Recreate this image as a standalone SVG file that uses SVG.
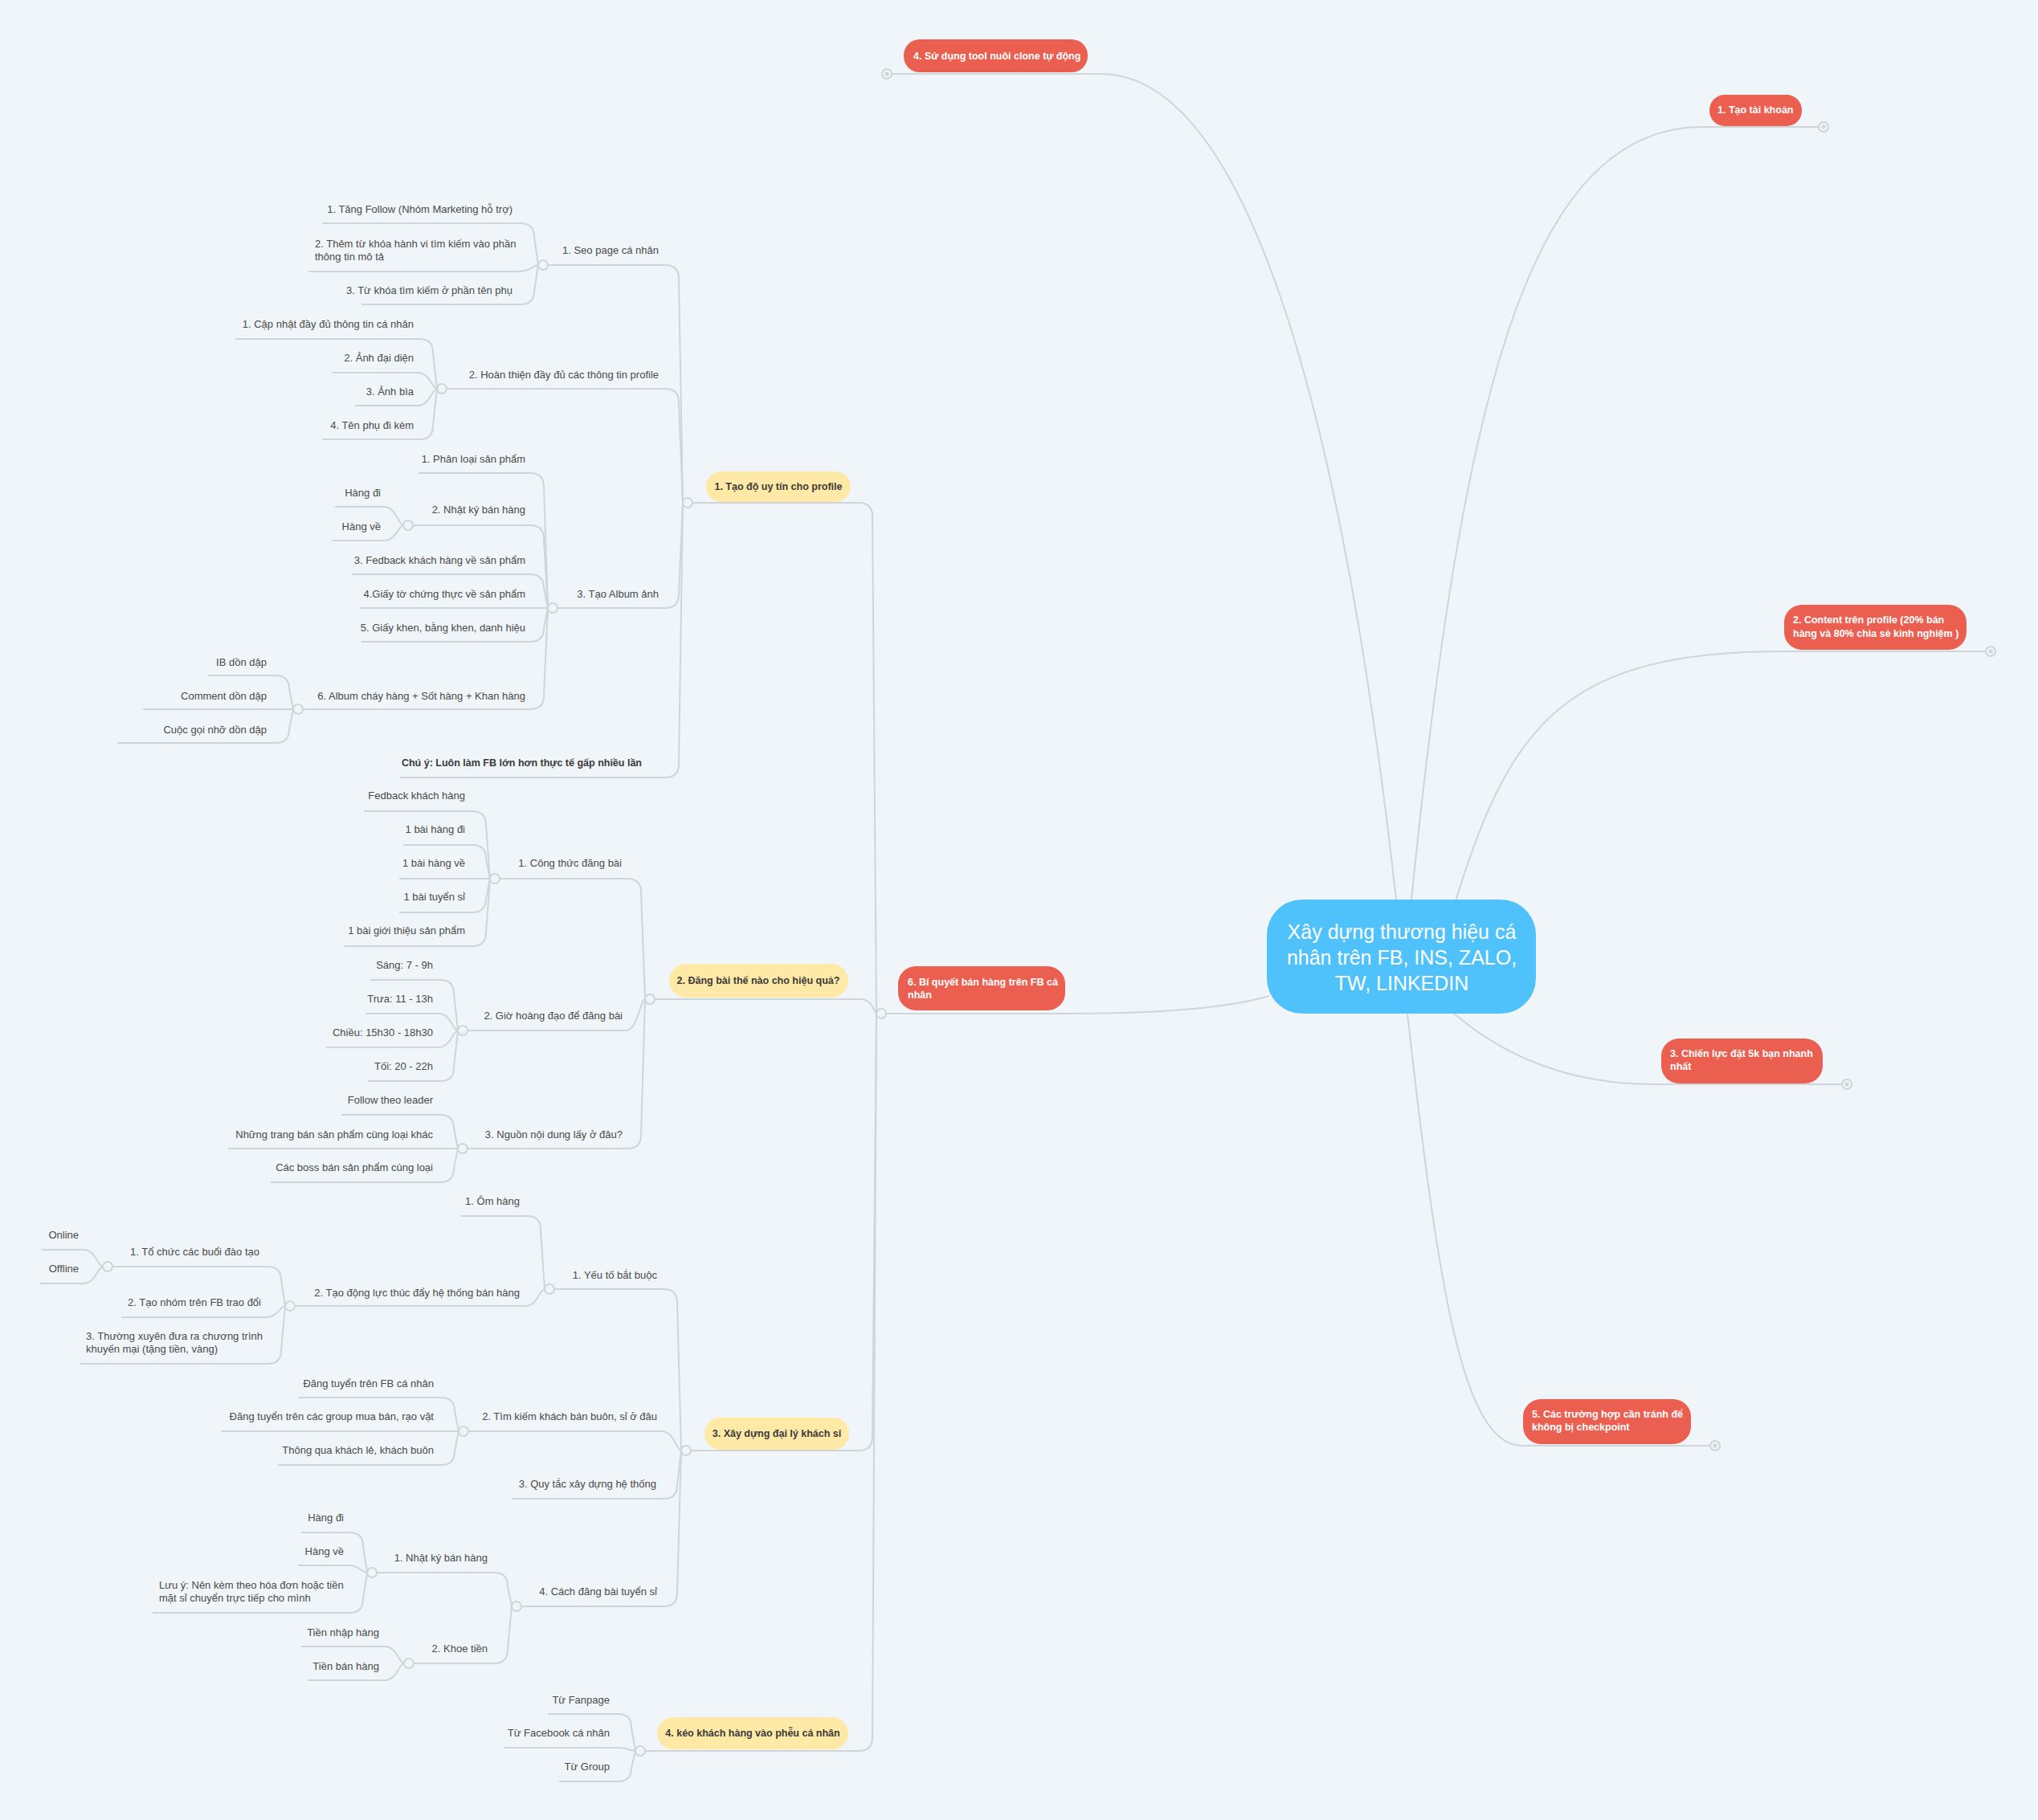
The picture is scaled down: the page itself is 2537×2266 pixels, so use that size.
<svg xmlns="http://www.w3.org/2000/svg" width="2537" height="2266" viewBox="0 0 2537 2266">
<style>
.bg{fill:#eff5f8}
.ln{fill:none;stroke:#d0d5d9;stroke-width:2}
.hub{fill:#eff5f8;stroke:#d0d5d9;stroke-width:2}
.dot{fill:#d0d5d9}
text{font-family:"Liberation Sans",Arial,sans-serif}
.t{font-size:13px;fill:#4a4a4a;dominant-baseline:central}
.e{text-anchor:end}
.b{font-weight:bold;font-size:12.5px;fill:#3a3a3a}
.y{fill:#ffe9a6}
.r{fill:#eb5f51}
.w{font-size:12.5px;font-weight:bold;fill:#fff;dominant-baseline:central}
.c{font-size:25px;fill:#fff;text-anchor:middle;dominant-baseline:central}
</style>
<rect class="bg" x="0" y="0" width="2537" height="2266"/>
<g id="connectors">
<path class="ln" d="M1103,1262 H1330 C1450,1262 1530,1255 1580,1240"/>
<path class="ln" d="M1738,1120 C1660,420 1530,92 1370,92 H1111"/>
<path class="ln" d="M1757,1120 C1820,500 1900,158 2120,158 H2264"/>
<path class="ln" d="M1812,1122 C1880,900 1950,811 2220,811 H2472"/>
<path class="ln" d="M1808,1260 C1900,1340 2000,1350 2060,1350 H2293"/>
<path class="ln" d="M1752,1262 C1790,1600 1820,1800 1895,1800 H2129"/>
<path class="ln" d="M862,626 H1069 Q1086,626 1086,643 L1091,1262"/>
<path class="ln" d="M815,1244 H1071 C1086,1244 1089,1262 1091,1262"/>
<path class="ln" d="M860,1806 H1069 Q1086,1806 1086,1789 L1091,1262"/>
<path class="ln" d="M803,2180 H1069 Q1086,2180 1086,2163 L1091,1262"/>
<path class="ln" d="M682,330 H828 Q845,330 845,347 L850,626"/>
<path class="ln" d="M556,484 H828 Q845,484 845,501 L850,626"/>
<path class="ln" d="M694,757 H828 Q845,757 845,740 L850,626"/>
<path class="ln" d="M498,968 H828 Q845,968 845,951 L850,626"/>
<path class="ln" d="M401,278 H648 Q665,278 665,295 L670,330"/>
<path class="ln" d="M384,338 H646 C661,338 664,330 670,330"/>
<path class="ln" d="M450,379 H648 Q665,379 665,362 L670,330"/>
<path class="ln" d="M293,422 H522 Q539,422 539,439 L544,484"/>
<path class="ln" d="M414,464 H520 C535,464 538,484 544,484"/>
<path class="ln" d="M442,505 H520 C535,505 538,484 544,484"/>
<path class="ln" d="M401,547 H522 Q539,547 539,530 L544,484"/>
<path class="ln" d="M521,589 H660 Q677,589 677,606 L682,757"/>
<path class="ln" d="M514,654 H660 Q677,654 677,671 L682,757"/>
<path class="ln" d="M438,715 H660 Q677,715 677,732 L682,757"/>
<path class="ln" d="M448,757 H682"/>
<path class="ln" d="M450,799 H660 Q677,799 677,782 L682,757"/>
<path class="ln" d="M377,883 H660 Q677,883 677,866 L682,757"/>
<path class="ln" d="M417,631 H478 C493,631 496,654 502,654"/>
<path class="ln" d="M414,673 H478 C493,673 496,654 502,654"/>
<path class="ln" d="M259,841 H343 Q360,841 360,858 L365,883"/>
<path class="ln" d="M178,883 H365"/>
<path class="ln" d="M146,925 H343 Q360,925 360,908 L365,883"/>
<path class="ln" d="M622,1094 H781 Q798,1094 798,1111 L803,1244"/>
<path class="ln" d="M582,1283 H779 C794,1283 797,1244 803,1244"/>
<path class="ln" d="M582,1430 H781 Q798,1430 798,1413 L803,1244"/>
<path class="ln" d="M453,1010 H588 Q605,1010 605,1027 L610,1094"/>
<path class="ln" d="M502,1052 H588 Q605,1052 605,1069 L610,1094"/>
<path class="ln" d="M497,1094 H610"/>
<path class="ln" d="M497,1136 H588 Q605,1136 605,1119 L610,1094"/>
<path class="ln" d="M429,1178 H588 Q605,1178 605,1161 L610,1094"/>
<path class="ln" d="M461,1220 H548 Q565,1220 565,1237 L570,1283"/>
<path class="ln" d="M455,1262 H546 C561,1262 564,1283 570,1283"/>
<path class="ln" d="M406,1304 H546 C561,1304 564,1283 570,1283"/>
<path class="ln" d="M458,1346 H548 Q565,1346 565,1329 L570,1283"/>
<path class="ln" d="M425,1388 H548 Q565,1388 565,1405 L570,1430"/>
<path class="ln" d="M284,1430 H570"/>
<path class="ln" d="M337,1472 H548 Q565,1472 565,1455 L570,1430"/>
<path class="ln" d="M690,1605 H826 Q843,1605 843,1622 L848,1806"/>
<path class="ln" d="M583,1782 H824 C839,1782 842,1806 848,1806"/>
<path class="ln" d="M637,1866 H826 Q843,1866 843,1849 L848,1806"/>
<path class="ln" d="M649,2000 H826 Q843,2000 843,1983 L848,1806"/>
<path class="ln" d="M574,1514 H656 Q673,1514 673,1531 L678,1605"/>
<path class="ln" d="M367,1626 H654 C669,1626 672,1605 678,1605"/>
<path class="ln" d="M140,1577 H333 Q350,1577 350,1594 L355,1626"/>
<path class="ln" d="M151,1640 H331 C346,1640 349,1626 355,1626"/>
<path class="ln" d="M99,1698 H333 Q350,1698 350,1681 L355,1626"/>
<path class="ln" d="M52,1556 H104 C119,1556 122,1577 128,1577"/>
<path class="ln" d="M49,1598 H104 C119,1598 122,1577 128,1577"/>
<path class="ln" d="M371,1740 H549 Q566,1740 566,1757 L571,1782"/>
<path class="ln" d="M275,1782 H571"/>
<path class="ln" d="M346,1824 H549 Q566,1824 566,1807 L571,1782"/>
<path class="ln" d="M469,1958 H615 Q632,1958 632,1975 L637,2000"/>
<path class="ln" d="M515,2071 H615 Q632,2071 632,2054 L637,2000"/>
<path class="ln" d="M375,1908 H435 Q452,1908 452,1925 L457,1958"/>
<path class="ln" d="M371,1949 H433 C448,1949 451,1958 457,1958"/>
<path class="ln" d="M190,2008 H435 Q452,2008 452,1991 L457,1958"/>
<path class="ln" d="M375,2050 H479 C494,2050 497,2071 503,2071"/>
<path class="ln" d="M383,2092 H479 C494,2092 497,2071 503,2071"/>
<path class="ln" d="M682,2134 H769 Q786,2134 786,2151 L791,2180"/>
<path class="ln" d="M627,2176 H770 C782,2176 785,2180 791,2180"/>
<path class="ln" d="M696,2218 H769 Q786,2218 786,2201 L791,2180"/>
</g>
<g id="hubs">
<circle class="hub" cx="1097" cy="1262" r="6"/>
<circle class="hub" cx="856" cy="626" r="6"/>
<circle class="hub" cx="809" cy="1244" r="6"/>
<circle class="hub" cx="854" cy="1806" r="6"/>
<circle class="hub" cx="797" cy="2180" r="6"/>
<circle class="hub" cx="676" cy="330" r="6"/>
<circle class="hub" cx="550" cy="484" r="6"/>
<circle class="hub" cx="688" cy="757" r="6"/>
<circle class="hub" cx="508" cy="654" r="6"/>
<circle class="hub" cx="371" cy="883" r="6"/>
<circle class="hub" cx="616" cy="1094" r="6"/>
<circle class="hub" cx="576" cy="1283" r="6"/>
<circle class="hub" cx="576" cy="1430" r="6"/>
<circle class="hub" cx="684" cy="1605" r="6"/>
<circle class="hub" cx="361" cy="1626" r="6"/>
<circle class="hub" cx="134" cy="1577" r="6"/>
<circle class="hub" cx="577" cy="1782" r="6"/>
<circle class="hub" cx="643" cy="2000" r="6"/>
<circle class="hub" cx="463" cy="1958" r="6"/>
<circle class="hub" cx="509" cy="2071" r="6"/>
<circle class="hub" cx="1104" cy="92" r="6"/><circle class="dot" cx="1104" cy="92" r="2.5"/>
<circle class="hub" cx="2270" cy="158" r="6"/><circle class="dot" cx="2270" cy="158" r="2.5"/>
<circle class="hub" cx="2478" cy="811" r="6"/><circle class="dot" cx="2478" cy="811" r="2.5"/>
<circle class="hub" cx="2299" cy="1350" r="6"/><circle class="dot" cx="2299" cy="1350" r="2.5"/>
<circle class="hub" cx="2135" cy="1800" r="6"/><circle class="dot" cx="2135" cy="1800" r="2.5"/>
</g>
<g id="center"><rect x="1577" y="1120" width="335" height="142" rx="44" fill="#50c2fb"/>
<text class="c" x="1745" y="1160">Xây dựng thương hiệu cá</text><text class="c" x="1745" y="1192">nhân trên FB, INS, ZALO,</text><text class="c" x="1745" y="1224">TW, LINKEDIN</text></g>
<g id="n-r4"><rect class="r" x="1125" y="49" width="229" height="41" rx="20"/><text class="w" x="1137" y="70">4. Sử dụng tool nuôi clone tự động</text></g>
<g id="n-r1"><rect class="r" x="2128" y="118" width="115" height="39" rx="19"/><text class="w" x="2138" y="137">1. Tạo tài khoản</text></g>
<g id="n-r2"><rect class="r" x="2221" y="753" width="227" height="56" rx="22"/><text class="w" x="2232" y="772">2. Content trên profile (20% bán</text><text class="w" x="2232" y="789">hàng và 80% chia sẻ kinh nghiệm )</text></g>
<g id="n-r3"><rect class="r" x="2068" y="1293" width="201" height="56" rx="22"/><text class="w" x="2079" y="1312">3. Chiến lực đặt 5k bạn nhanh</text><text class="w" x="2079" y="1328">nhất</text></g>
<g id="n-r5"><rect class="r" x="1896" y="1742" width="209" height="56" rx="22"/><text class="w" x="1907" y="1761">5. Các trường hợp cần tránh để</text><text class="w" x="1907" y="1777">không bị checkpoint</text></g>
<g id="n-r6"><rect class="r" x="1118" y="1203" width="208" height="55" rx="22"/><text class="w" x="1130" y="1223">6. Bí quyết bán hàng trên FB cá</text><text class="w" x="1130" y="1239">nhân</text></g>
<g id="n-y1"><rect class="y" x="879" y="587" width="180" height="38" rx="19"/><text class="t b" x="969" y="606" text-anchor="middle">1. Tạo độ uy tín cho profile</text></g>
<g id="n-y2"><rect class="y" x="833" y="1200" width="223" height="42" rx="21"/><text class="t b" x="944" y="1221" text-anchor="middle">2. Đăng bài thế nào cho hiệu quả?</text></g>
<g id="n-y3"><rect class="y" x="877" y="1765" width="180" height="40" rx="20"/><text class="t b" x="967" y="1785" text-anchor="middle">3. Xây dựng đại lý khách sỉ</text></g>
<g id="n-y4"><rect class="y" x="818" y="2138" width="238" height="40" rx="20"/><text class="t b" x="937" y="2158" text-anchor="middle">4. kéo khách hàng vào phễu cá nhân</text></g>
<g id="leaves1">
<text class="t e" x="820" y="311">1. Seo page cá nhân</text>
<text class="t e" x="638" y="260">1. Tăng Follow (Nhóm Marketing hỗ trợ)</text>
<text class="t" x="392" y="303">2. Thêm từ khóa hành vi tìm kiếm vào phần</text>
<text class="t" x="392" y="319">thông tin mô tả</text>
<text class="t e" x="638" y="361">3. Từ khóa tìm kiếm ở phần tên phụ</text>
<text class="t e" x="820" y="466">2. Hoàn thiện đầy đủ các thông tin profile</text>
<text class="t e" x="515" y="403">1. Cập nhật đầy đủ thông tin cá nhân</text>
<text class="t e" x="515" y="445">2. Ảnh đại diện</text>
<text class="t e" x="515" y="487">3. Ảnh bìa</text>
<text class="t e" x="515" y="529">4. Tên phụ đi kèm</text>
<text class="t e" x="820" y="739">3. Tạo Album ảnh</text>
<text class="t e" x="654" y="571">1. Phân loại sản phẩm</text>
<text class="t e" x="654" y="634">2. Nhật ký bán hàng</text>
<text class="t e" x="474" y="613">Hàng đi</text>
<text class="t e" x="474" y="655">Hàng về</text>
<text class="t e" x="654" y="697">3. Fedback khách hàng về sản phẩm</text>
<text class="t e" x="654" y="739">4.Giấy tờ chứng thực về sản phẩm</text>
<text class="t e" x="654" y="781">5. Giấy khen, bằng khen, danh hiệu</text>
<text class="t e" x="654" y="866">6. Album cháy hàng + Sốt hàng + Khan hàng</text>
<text class="t e" x="332" y="824">IB dồn dập</text>
<text class="t e" x="332" y="866">Comment dồn dập</text>
<text class="t e" x="332" y="908">Cuộc gọi nhỡ dồn dập</text>
<text class="t e b" x="799" y="950">Chú ý: Luôn làm FB lớn hơn thực tế gấp nhiều lần</text>
</g>
<g id="leaves2">
<text class="t e" x="774" y="1074">1. Công thức đăng bài</text>
<text class="t e" x="579" y="990">Fedback khách hàng</text>
<text class="t e" x="579" y="1032">1 bài hàng đi</text>
<text class="t e" x="579" y="1074">1 bài hàng về</text>
<text class="t e" x="579" y="1116">1 bài tuyển sỉ</text>
<text class="t e" x="579" y="1158">1 bài giới thiệu sản phẩm</text>
<text class="t e" x="775" y="1264">2. Giờ hoàng đạo để đăng bài</text>
<text class="t e" x="539" y="1201">Sáng: 7 - 9h</text>
<text class="t e" x="539" y="1243">Trưa: 11 - 13h</text>
<text class="t e" x="539" y="1285">Chiều: 15h30 - 18h30</text>
<text class="t e" x="539" y="1327">Tối: 20 - 22h</text>
<text class="t e" x="775" y="1412">3. Nguồn nội dung lấy ở đâu?</text>
<text class="t e" x="539" y="1369">Follow theo leader</text>
<text class="t e" x="539" y="1412">Những trang bán sản phẩm cùng loại khác</text>
<text class="t e" x="539" y="1453">Các boss bán sản phẩm cùng loại</text>
</g>
<g id="leaves3">
<text class="t e" x="818" y="1587">1. Yếu tố bắt buộc</text>
<text class="t e" x="647" y="1495">1. Ôm hàng</text>
<text class="t e" x="647" y="1609">2. Tạo động lực thúc đẩy hệ thống bán hàng</text>
<text class="t e" x="323" y="1558">1. Tổ chức các buổi đào tạo</text>
<text class="t e" x="98" y="1537">Online</text>
<text class="t e" x="98" y="1579">Offline</text>
<text class="t e" x="325" y="1621">2. Tạo nhóm trên FB trao đổi</text>
<text class="t" x="107" y="1663">3. Thường xuyên đưa ra chương trình</text>
<text class="t" x="107" y="1679">khuyến mại (tặng tiền, vàng)</text>
<text class="t e" x="818" y="1763">2. Tìm kiếm khách bán buôn, sỉ ở đâu</text>
<text class="t e" x="540" y="1722">Đăng tuyển trên FB cá nhân</text>
<text class="t e" x="540" y="1763">Đăng tuyển trên các group mua bán, rạo vặt</text>
<text class="t e" x="540" y="1805">Thông qua khách lẻ, khách buôn</text>
<text class="t e" x="817" y="1847">3. Quy tắc xây dựng hệ thống</text>
<text class="t e" x="818" y="1981">4. Cách đăng bài tuyển sỉ</text>
<text class="t e" x="607" y="1939">1. Nhật ký bán hàng</text>
<text class="t e" x="428" y="1889">Hàng đi</text>
<text class="t e" x="428" y="1931">Hàng về</text>
<text class="t" x="198" y="1973">Lưu ý: Nên kèm theo hóa đơn hoặc tiền</text>
<text class="t" x="198" y="1989">mặt sỉ chuyển trực tiếp cho mình</text>
<text class="t e" x="607" y="2052">2. Khoe tiền</text>
<text class="t e" x="472" y="2032">Tiền nhập hàng</text>
<text class="t e" x="472" y="2074">Tiền bán hàng</text>
</g>
<g id="leaves4">
<text class="t e" x="759" y="2116">Từ Fanpage</text>
<text class="t e" x="759" y="2157">Từ Facebook cá nhân</text>
<text class="t e" x="759" y="2199">Từ Group</text>
</g>
</svg>
